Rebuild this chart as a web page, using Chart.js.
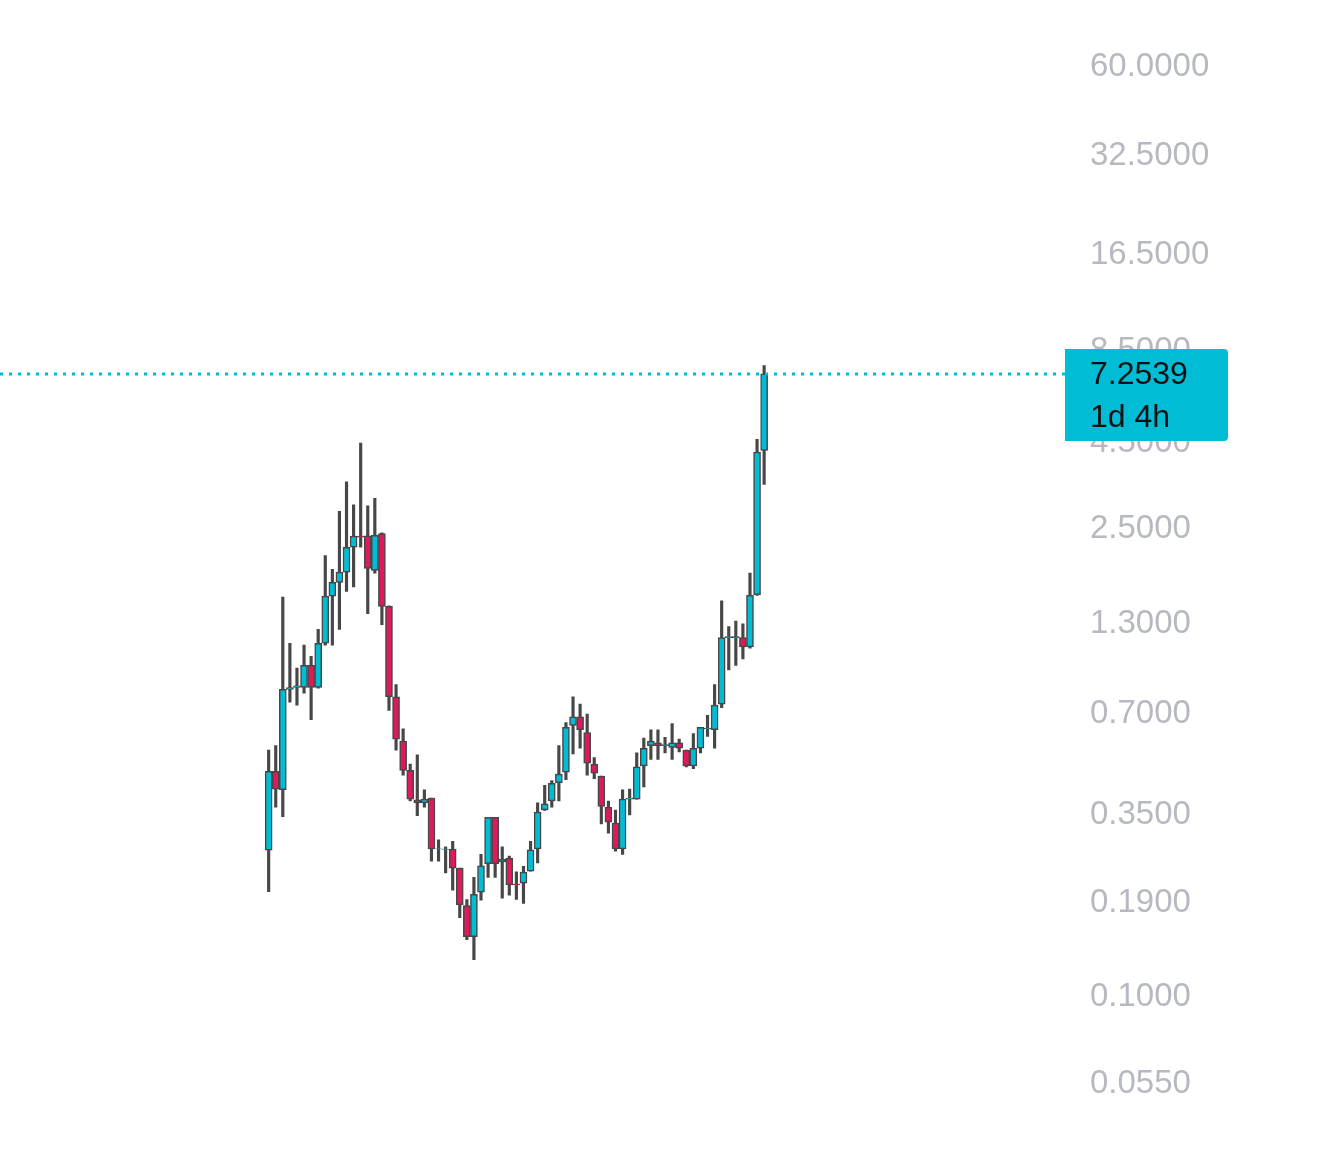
<!DOCTYPE html>
<html><head><meta charset="utf-8">
<script src="https://cdn.jsdelivr.net/npm/chart.js@4/dist/chart.umd.min.js"></script>
<style>html,body{margin:0;padding:0;background:#fff}#w{width:1320px;height:1149px}</style>
</head><body><div id="w"><canvas id="c"></canvas></div>
<script>
const opens  = [0.274,0.471,0.415,0.828,0.839,0.839,0.976,0.839,1.137,1.573,1.729,1.854,2.201,2.375,2.38,1.878,2.420,1.466,0.787,0.580,0.474,0.387,0.379,0.392,0.276,0.2755,0.276,0.242,0.187,0.151,0.205,0.2495,0.343,0.2527,0.2593,0.2170,0.2184,0.2372,0.276,0.361,0.384,0.436,0.468,0.646,0.685,0.615,0.495,0.456,0.368,0.330,0.276,0.389,0.389,0.489,0.562,0.573,0.562,0.555,0.573,0.545,0.489,0.552,0.631,0.627,0.748,1.182,1.18,1.182,1.109,1.587,4.286];
const highs  = [0.545,0.562,1.562,1.137,0.958,1.123,1.040,1.251,2.079,1.890,2.819,3.454,2.947,4.509,2.928,3.082,2.43,1.47,0.855,0.631,0.495,0.528,0.415,0.392,0.294,0.280,0.291,0.242,0.195,0.227,0.266,0.343,0.343,0.280,0.263,0.236,0.245,0.291,0.379,0.428,0.442,0.562,0.659,0.787,0.748,0.698,0.518,0.456,0.384,0.361,0.415,0.417,0.535,0.592,0.627,0.627,0.595,0.654,0.588,0.545,0.611,0.638,0.693,0.855,1.523,1.275,1.324,1.299,1.842,4.625,7.68];
const lows   = [0.206,0.368,0.345,0.758,0.743,0.807,0.672,0.835,1.123,1.123,1.251,1.623,1.675,2.201,1.393,1.842,1.291,0.716,0.545,0.459,0.384,0.347,0.368,0.254,0.254,0.234,0.208,0.172,0.148,0.129,0.194,0.227,0.227,0.197,0.201,0.195,0.190,0.237,0.251,0.360,0.368,0.384,0.445,0.531,0.552,0.459,0.448,0.328,0.308,0.272,0.266,0.349,0.389,0.423,0.511,0.511,0.535,0.511,0.538,0.486,0.480,0.535,0.599,0.552,0.730,0.946,0.976,1.021,1.10,1.58,3.389];
const closes = [0.471,0.417,0.828,0.8386,0.849,0.976,0.839,1.137,1.573,1.729,1.854,2.201,2.375,2.36,1.902,2.390,1.466,0.787,0.588,0.474,0.389,0.379,0.389,0.276,0.2765,0.276,0.242,0.188,0.151,0.202,0.246,0.343,0.2495,0.2576,0.2156,0.2160,0.2357,0.2744,0.356,0.377,0.4335,0.462,0.638,0.685,0.627,0.4985,0.465,0.370,0.332,0.276,0.389,0.392,0.486,0.552,0.580,0.562,0.566,0.573,0.552,0.489,0.552,0.638,0.634,0.743,1.182,1.19,1.19,1.109,1.582,4.233,7.2539];
const yTicks = [60,32.5,16.5,8.5,4.5,2.5,1.3,0.7,0.35,0.19,0.1,0.055];
const lastPrice = 7.2539;
const lastLabel = ["7.2539","1d 4h"];

const UP='#00bcd4', DOWN='#e0195a', EDGE='#474747';
const wicks = lows.map((l,i)=>({x:i,y:[l,highs[i]]}));
const bodies = opens.map((o,i)=>({x:i,y:[o,closes[i]]}));
const bodyColors = opens.map((o,i)=>closes[i]>=o?UP:DOWN);

const lastLine = {
  id:'lastLine',
  afterDraw(ch){
    const c=ch.ctx, y=ch.scales.y.getPixelForValue(lastPrice), a=ch.chartArea;
    c.save();
    c.strokeStyle=UP; c.lineWidth=3; c.setLineDash([3,6]);
    c.beginPath(); c.moveTo(a.left,y); c.lineTo(a.right,y); c.stroke();
    c.setLineDash([]);
    const bx=a.right, bw=163, top=y-25, bh=92;
    c.fillStyle=UP; c.beginPath(); c.roundRect(bx,top,bw,bh,[0,4,4,0]); c.fill();
    c.fillStyle='#111'; c.font='32px "Liberation Sans", Roboto, sans-serif'; c.textBaseline='middle';
    c.fillText(lastLabel[0],bx+25,y+1); c.fillText(lastLabel[1],bx+25,y+44);
    c.restore();
  }
};

new Chart(document.getElementById('c'),{
  type:'bar',
  data:{datasets:[
    {data:wicks,backgroundColor:EDGE,borderWidth:0,barThickness:2.5,grouped:false,order:2},
    {data:bodies,backgroundColor:bodyColors,borderColor:EDGE,borderWidth:1.5,borderSkipped:false,barThickness:7,grouped:false,order:1}
  ]},
  options:{
    responsive:true,maintainAspectRatio:false,animation:false,
    layout:{padding:0},
    plugins:{legend:{display:false},tooltip:{enabled:false}},
    scales:{
      x:{type:'linear',min:-28.55,max:103.1,display:false},
      y:{type:'logarithmic',position:'right',min:0.0477,max:69.8,
        grid:{display:false,drawTicks:false},border:{display:false},
        afterBuildTicks(s){s.ticks=yTicks.map(v=>({value:v}));},
        afterFit(s){s.width=255;},
        ticks:{padding:25,color:'#b7b9c0',crossAlign:'near',
          font:{size:33,family:'"Liberation Sans", Roboto, sans-serif'},
          callback:v=>Number(v).toFixed(4)}
      }
    }
  },
  plugins:[lastLine]
});
</script></body></html>
